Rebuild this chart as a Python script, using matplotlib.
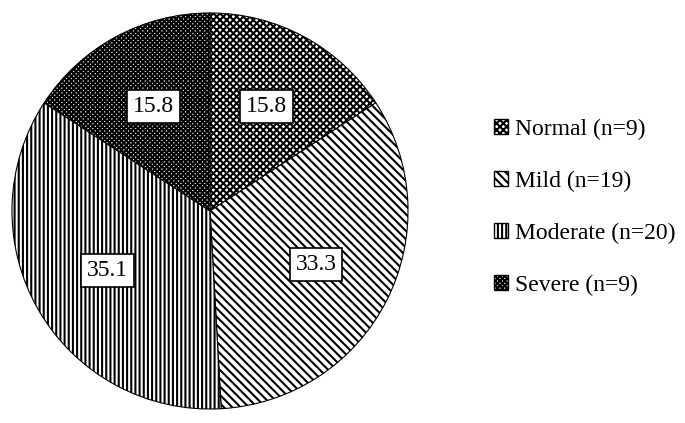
import matplotlib
matplotlib.use("Agg")
import matplotlib.pyplot as plt
from matplotlib.patches import Patch
import numpy as np

plt.rcParams['font.family'] = ['Liberation Serif', 'DejaVu Serif']
plt.rcParams['hatch.linewidth'] = 1.5

labels = ["Normal (n=9)", "Mild (n=19)", "Moderate (n=20)", "Severe (n=9)"]
values = [15.8, 33.3, 35.1, 15.8]
hatches = ["xxxxx", "\\\\\\\\", "||||", "xxxxxxx"]

fig = plt.figure(figsize=(6.85, 4.23), dpi=100)
ax = fig.add_axes([10/685, 12/423, 400/685, 400/423])
wedges, _ = ax.pie(values, startangle=90, counterclock=False,
                   colors=["white"] * 4,
                   wedgeprops=dict(edgecolor="black", linewidth=0.8))
for w, h in zip(wedges, hatches):
    w.set_hatch(h)
for w, v in zip(wedges, values):
    ang = np.deg2rad((w.theta1 + w.theta2) / 2)
    r = 0.6
    ax.text(r * np.cos(ang), r * np.sin(ang), f"{v}", ha="center", va="center",
            fontsize=17, bbox=dict(boxstyle="square,pad=0.25", fc="white", ec="black", lw=1.2))
ax.set_xlim(-1.01, 1.01)
ax.set_ylim(-1.01, 1.01)
ax.set_aspect("equal")

handles = [Patch(facecolor="white", edgecolor="black", hatch=h) for h in hatches]
fig.legend(handles, labels, loc="center left", bbox_to_anchor=(0.69, 0.51),
           frameon=False, fontsize=17, handlelength=0.6, handleheight=0.6,
           labelspacing=1.3, handletextpad=0.3)
fig.savefig("out.png", dpi=100)
